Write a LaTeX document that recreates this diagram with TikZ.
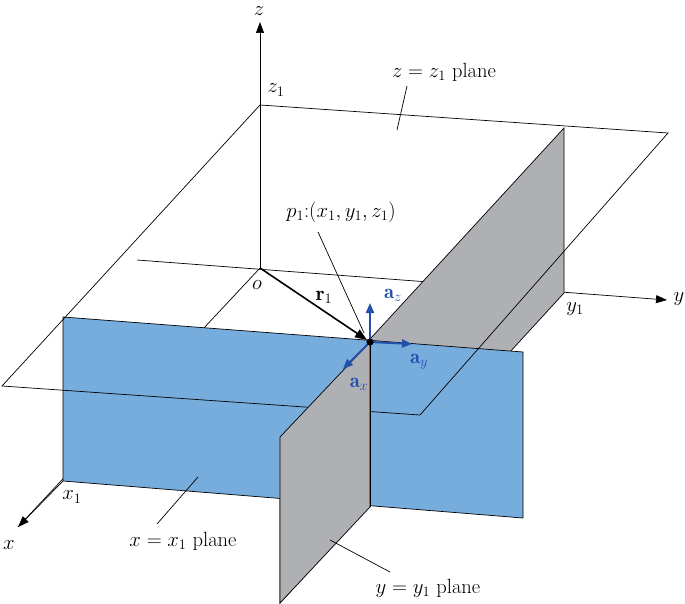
\documentclass[tikz,border=0pt]{standalone}
\usepackage{fontspec}
\usetikzlibrary{arrows.meta,calc}
\definecolor{planeblue}{RGB}{118,173,221}
\definecolor{planegray}{RGB}{175,176,180}
\definecolor{vecblue}{RGB}{35,80,170}
\tikzset{
  thin line/.style={line width=0.7pt},
  axis/.style={line width=0.7pt,-{Triangle[length=11pt,width=8pt]}},
  vec/.style={vecblue,line width=2pt,-{Triangle[length=10pt,width=8pt]}},
  lbl/.style={font=\fontsize{20.5}{23}\selectfont,inner sep=1pt},
  vlbl/.style={lbl,text=vecblue},
}
\begin{document}
\begin{tikzpicture}[x=1pt,y=-1pt]
\useasboundingbox (0,0) rectangle (685,604);
% coordinates
\coordinate (o) at (260,268);
\coordinate (p) at (370,342);
\coordinate (ztip) at (260,22);
\coordinate (yneg) at (137,260);
\coordinate (ytip) at (667,300);
\coordinate (xtip) at (18,527);
% z=z1 plane corners
\coordinate (zA) at (260,105);
\coordinate (zB) at (668,133);
\coordinate (zC) at (420,415);
\coordinate (zD) at (2,386);
% gray plane
\coordinate (gA) at (564,128);
\coordinate (gB) at (564,293);
\coordinate (gC) at (280,603);
\coordinate (gD) at (280,437);
\coordinate (gE) at (370,507);
% blue plane
\coordinate (bA) at (63,317);
\coordinate (bB) at (523,352);
\coordinate (bC) at (523,518);
\coordinate (bD) at (63,481);
\coordinate (rend) at (367,340);

% axes behind
\draw[thin line] (o) -- (xtip);
\draw[axis] (yneg) -- (ytip);
\draw[axis] (o) -- (ztip);
% gray plane
\draw[thin line,fill=planegray] (gA) -- (gB) -- (gC) -- (gD) -- cycle;
% blue plane
\draw[thin line,fill=planeblue] (bA) -- (bB) -- (bC) -- (bD) -- cycle;
% x-axis front
\draw[axis] (bD) -- (xtip);
% z plane
\draw[thin line] (zA) -- (zB) -- (zC) -- (zD) -- cycle;
% gray front piece
\draw[thin line,fill=planegray] (p) -- (gD) -- (gC) -- (gE) -- cycle;
\draw[thin line] (p) -- (gE);

% r1
\draw[line width=1.6pt,-{Triangle[length=12pt,width=9pt]}] (o) -- (rend);
% vectors
\draw[vec] (p) -- (370,303);
\draw[vec] (p) -- (412,344);
\draw[vec] (p) -- (343,369);
\fill (p) circle (3.6);

% labels
\node[lbl] (zl) at (259,11) {$z$};
\node[lbl] (yl) at (679,299) {$y$};
\node[lbl] (xl) at (9,545) {$x$};
\node[lbl] (z1l) at (276,90) {$z_1$};
\node[lbl] (ol) at (257,285) {$o$};
\node[lbl] (y1l) at (575,309) {$y_1$};
\node[lbl] (x1l) at (72,497) {$x_1$};
\node[lbl] (r1l) at (324,297) {$\mathbf{r}_1$};
\node[vlbl] (azl) at (393,295) {$\mathbf{a}_z$};
\node[vlbl] (ayl) at (419,362) {$\mathbf{a}_y$};
\node[vlbl] (axl) at (359,384) {$\mathbf{a}_x$};
\node[lbl] (pl) at (341,212) {$p_1{:}(x_1,y_1,z_1)$};
\node[lbl] (zpl) at (444,72) {$z=z_1$ plane};
\node[lbl] (xpl) at (183,541) {$x=x_1$ plane};
\node[lbl] (ypl) at (428,588) {$y=y_1$ plane};
% leaders
\draw[thin line] (318,232) -- (364,333);
\draw[thin line] (407,86) -- (397,130);
\draw[thin line] (157,524) -- (198,477);
\draw[thin line] (390,572) -- (330,540);
\end{tikzpicture}
\end{document}
